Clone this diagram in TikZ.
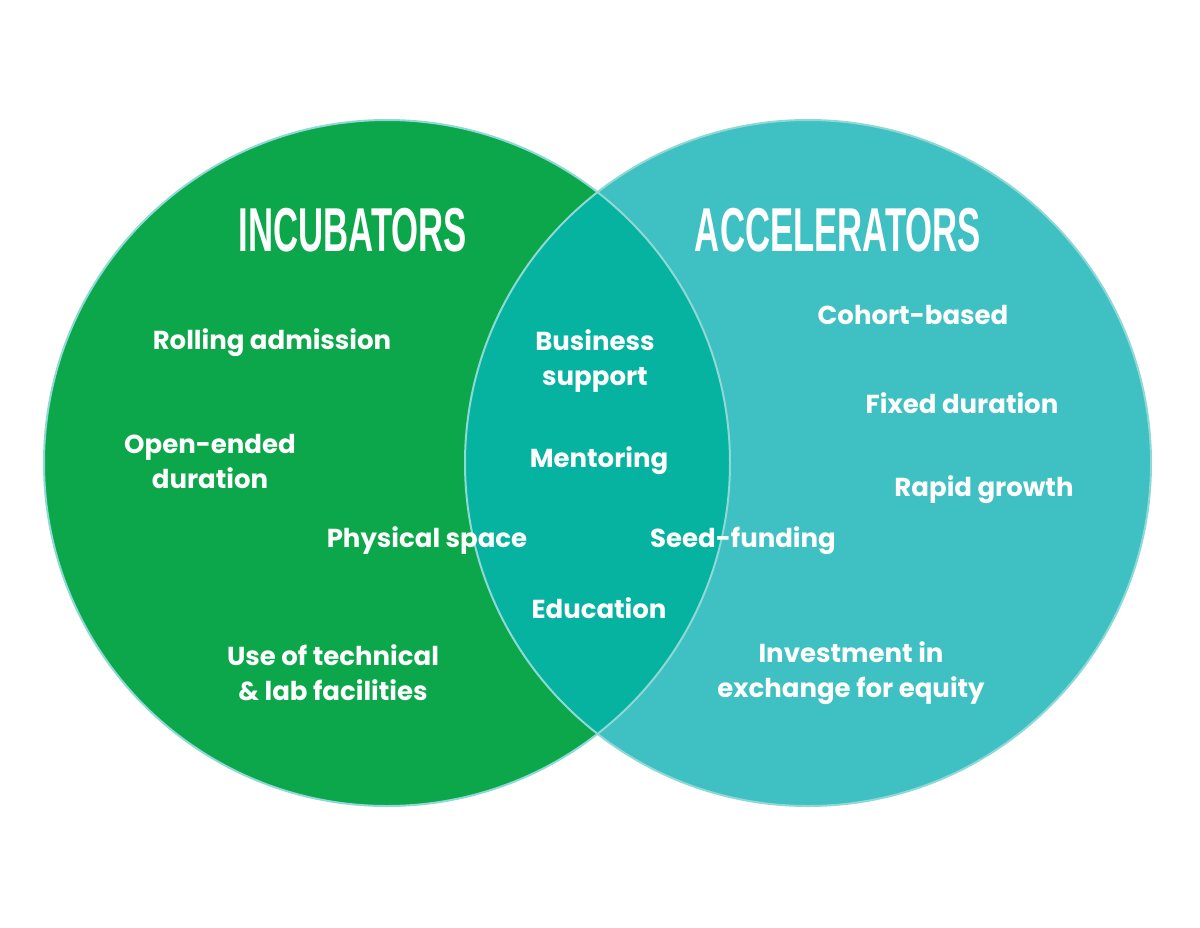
\documentclass[tikz,border=0pt]{standalone}
\usepackage{fontspec}
\usepackage{graphicx}
\setmainfont{Poppins}
\newfontfamily\titlefont{Liberation Sans}
\definecolor{incgreen}{HTML}{0BA74A}
\definecolor{accteal}{HTML}{3FC0C3}
\definecolor{overlap}{HTML}{05B3A0}
\definecolor{rimcol}{HTML}{8ED8D6}
\tikzset{
  lbl/.style={text=white, font=\fontsize{13pt}{17.5pt}\selectfont\bfseries, align=center, inner sep=0pt},
  ttl/.style={text=white, inner sep=0pt},
}
\newcommand{\ttltext}[1]{\scalebox{0.56}[1]{\titlefont\fontsize{31pt}{31pt}\selectfont\bfseries #1}}
\begin{document}
\begin{tikzpicture}[x=0.5pt,y=-0.5pt]
\useasboundingbox[fill=white] (0,0) rectangle (1200,927);
\coordinate (cl) at (387,463);
\coordinate (cr) at (808,463);
\fill[incgreen] (cl) circle[radius=171.5pt];
\fill[accteal] (cr) circle[radius=171.5pt];
\begin{scope}
\clip (cl) circle[radius=171.5pt];
\fill[overlap] (cr) circle[radius=171.5pt];
\end{scope}
\draw[rimcol, line width=1pt] (cl) circle[radius=171.5pt];
\draw[rimcol, line width=1pt] (cr) circle[radius=171.5pt];
\node[ttl] (t1) at (353,230) {\ttltext{INCUBATORS}};
\node[ttl] (t2) at (838,230) {\ttltext{ACCELERATORS}};
\node[lbl] (a1) at (272,343) {Rolling admission};
\node[lbl] (a2) at (210,461) {Open-ended\\duration};
\node[lbl] (a3) at (427,541) {Physical space};
\node[lbl] (a4) at (333,673) {Use of technical\\\& lab facilities};
\node[lbl] (b1) at (595,361) {Business\\support};
\node[lbl] (b2) at (599,461) {Mentoring};
\node[lbl] (b3) at (599,608) {Education};
\node[lbl] (c0) at (743,541) {Seed-funding};
\node[lbl] (c1) at (913,315) {Cohort-based};
\node[lbl] (c2) at (962,403) {Fixed duration};
\node[lbl] (c3) at (984,490) {Rapid growth};
\node[lbl] (c4) at (851,673) {Investment in\\exchange for equity};
\end{tikzpicture}
\end{document}
